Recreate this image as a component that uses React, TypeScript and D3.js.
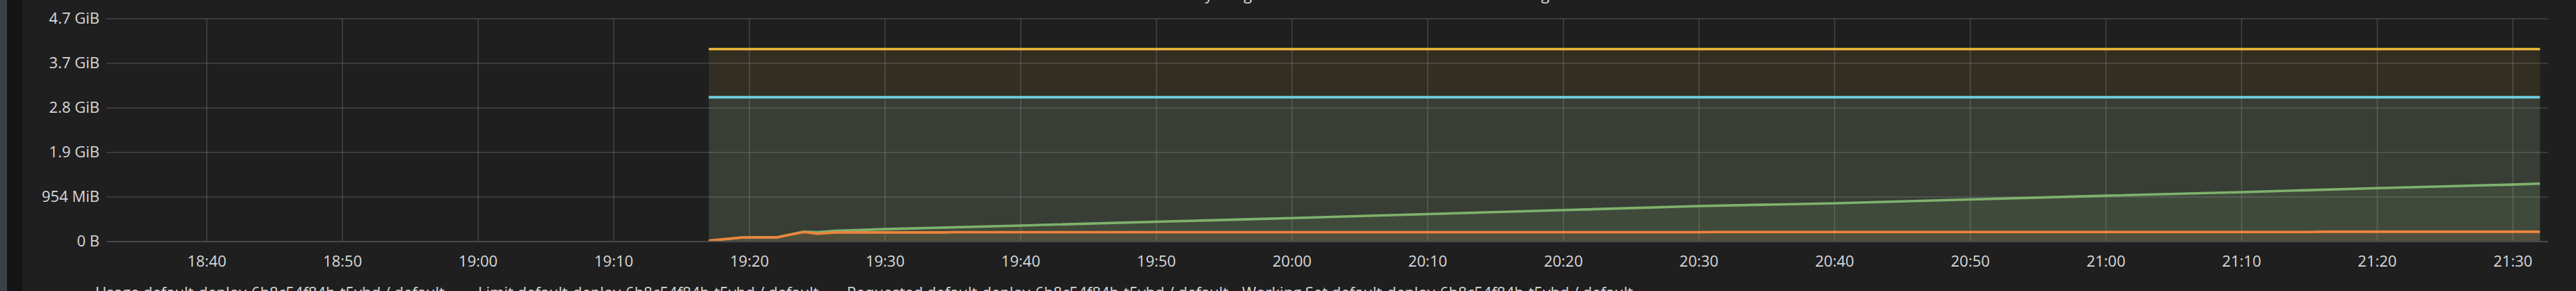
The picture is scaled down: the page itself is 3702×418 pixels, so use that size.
import * as d3 from 'd3';

// time window shown by the panel (3 hours)
const rangeStart = '18:32:36';
const rangeEnd = '21:32:36';

// y axis: bytes (decimal steps, labelled in binary units)
const yTickValues = [0, 1e9, 2e9, 3e9, 4e9, 5e9];
const yTickLabels = ['0 B', '954 MiB', '1.9 GiB', '2.8 GiB', '3.7 GiB', '4.7 GiB'];

const title = 'Container Memory Usage and Limits for the Selected Pod Working Set';
const podName = 'default-deploy-6b8c54f84b-t5vhd / default';

// series samples: [time, bytes]
const usagePoints: [string, number][] = [
  ['19:17:00', 0.02e9], ['19:19:30', 0.094e9], ['19:22:00', 0.094e9], ['19:24:00', 0.22e9],
  ['19:25:00', 0.21e9], ['19:26:20', 0.24e9], ['19:30:00', 0.28e9], ['19:40:00', 0.36e9],
  ['19:50:00', 0.445e9], ['20:00:00', 0.527e9], ['20:10:00', 0.617e9], ['20:20:00', 0.706e9],
  ['20:30:00', 0.797e9], ['20:40:00', 0.86e9], ['20:50:00', 0.945e9], ['21:00:00', 1.03e9],
  ['21:10:00', 1.11e9], ['21:20:00', 1.2e9], ['21:30:00', 1.28e9], ['21:32:00', 1.3e9],
];
const limitPoints: [string, number][] = [['19:17:00', 4.32e9], ['21:32:00', 4.32e9]];
const requestedPoints: [string, number][] = [['19:17:00', 3.24e9], ['21:32:00', 3.24e9]];
const workingSetPoints: [string, number][] = [
  ['19:17:00', 0.02e9], ['19:19:30', 0.094e9], ['19:22:00', 0.094e9], ['19:24:00', 0.214e9],
  ['19:25:00', 0.175e9], ['19:26:20', 0.205e9], ['19:34:30', 0.205e9], ['19:35:00', 0.212e9],
  ['20:30:00', 0.212e9], ['20:31:00', 0.216e9], ['21:15:00', 0.216e9], ['21:16:00', 0.22e9],
  ['21:32:00', 0.22e9],
];

const seriesNames = ['Usage', 'Limit', 'Requested', 'Working Set'];
const seriesColors = ['#7eb26d', '#eab839', '#6ed0e0', '#ef843c'];
const seriesPoints = [usagePoints, limitPoints, requestedPoints, workingSetPoints];

const W = 3702;
const H = 418;
const plot = { left: 153, right: 3662, top: 27, bottom: 347 };
const legendX = [137, 687, 1217, 1785];
const font = "'Open Sans', sans-serif";
const textColor = '#d8d9da';
const gridColor = 'rgba(120,120,130,0.42)';

const parseT = (s: string) => {
  const [h, m, sec] = s.split(':').map(Number);
  return new Date(2020, 0, 1, h, m, sec);
};

type Pt = { t: Date; v: number };

export default function App() {
  const x = d3.scaleTime().domain([parseT(rangeStart), parseT(rangeEnd)]).range([plot.left, plot.right]);
  const y = d3.scaleLinear().domain([0, 5e9]).range([plot.bottom, plot.top]);
  const xTicks = x.ticks(d3.timeMinute.every(10)!);
  const fmt = d3.timeFormat('%H:%M');

  const series = seriesPoints.map((pts) => pts.map(([t, v]) => ({ t: parseT(t), v })));
  const line = d3.line<Pt>().x((d) => x(d.t)).y((d) => y(d.v));
  const area = d3.area<Pt>().x((d) => x(d.t)).y0(y(0)).y1((d) => y(d.v));

  return (
    <svg
      width={W}
      height={H}
      style={{ position: 'fixed', left: 0, top: 0, display: 'block' }}
      fontFamily={font}
    >
      <rect width={W} height={H} fill="#1f1f20" />
      {/* dark strip left of the panel */}
      <rect x={0} y={0} width={10} height={H} fill="#3c4048" />
      <rect x={10} y={0} width={22} height={H} fill="#141415" />

      {/* title, mostly cut off at the top as in the panel screenshot */}
      <text x={(plot.left + plot.right) / 2} y={0} textAnchor="middle" fontSize={22} fill={textColor}>
        {title}
      </text>

      {/* grid */}
      {yTickValues.slice(1).map((v) => (
        <line key={v} x1={plot.left} x2={plot.right} y1={y(v)} y2={y(v)} stroke={gridColor} strokeWidth={1.5} />
      ))}
      {xTicks.map((t) => (
        <line key={+t} x1={x(t)} x2={x(t)} y1={plot.top} y2={plot.bottom} stroke={gridColor} strokeWidth={1.5} />
      ))}

      {/* fills */}
      {series.map((s, i) => (
        <path key={'a' + i} d={area(s) ?? ''} fill={seriesColors[i]} fillOpacity={0.1} />
      ))}
      {/* lines */}
      {series.map((s, i) => (
        <path key={'l' + i} d={line(s) ?? ''} fill="none" stroke={seriesColors[i]} strokeWidth={3.6} />
      ))}

      <line x1={plot.left} x2={plot.right} y1={plot.bottom} y2={plot.bottom} stroke="#49494c" strokeWidth={2} />

      {/* y axis labels */}
      {yTickValues.map((v, i) => (
        <text key={v} x={143} y={y(v)} dy="0.3em" textAnchor="end" fontSize={22} fill={textColor}>
          {yTickLabels[i]}
        </text>
      ))}
      {/* x axis labels */}
      {xTicks.map((t) => (
        <text key={+t} x={x(t)} y={383} textAnchor="middle" fontSize={22} fill={textColor}>
          {fmt(t)}
        </text>
      ))}

      {/* legend, cut off at the bottom */}
      {seriesNames.map((n, i) => (
        <g key={n}>
          <line x1={legendX[i] - 26} x2={legendX[i] - 8} y1={422} y2={422} stroke={seriesColors[i]} strokeWidth={3} />
          <text x={legendX[i]} y={428} fontSize={22} fill={textColor}>
            {`${n} ${podName}`}
          </text>
        </g>
      ))}
    </svg>
  );
}
